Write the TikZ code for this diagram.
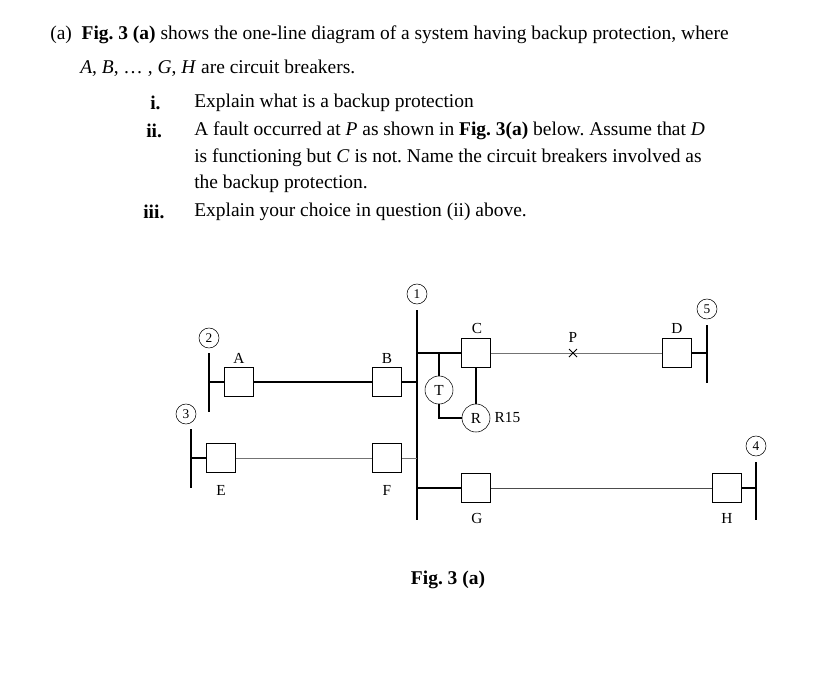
\documentclass[tikz,border=0pt]{standalone}
\usepackage{fontspec}
\setmainfont{Liberation Serif}
\usetikzlibrary{calc}
\frenchspacing
\begin{document}
\begin{tikzpicture}[x=0.75pt,y=-0.75pt,
  brk/.style={draw,fill=white,minimum width=21.75pt,minimum height=21.75pt,inner sep=0pt,line width=0.6pt},
  busc/.style={draw,circle,minimum size=15pt,inner sep=0pt,font=\fontsize{10}{10}\selectfont},
  relc/.style={draw,circle,minimum size=21pt,inner sep=0pt,font=\fontsize{11.5}{11.5}\selectfont},
  bus/.style={line width=1.6pt},
  thk/.style={line width=1.2pt},
  thn/.style={line width=0.6pt,black!55},
  lab/.style={font=\fontsize{11.5}{12}\selectfont},
  txt/.style={anchor=west,inner sep=0pt,font=\fontsize{14.6}{16}\selectfont}]
\useasboundingbox (0,0) rectangle (813,676);
% text
\node[txt] (l1) at (50,35) {(a)\hspace{0.5em}\textbf{Fig. 3 (a)} shows the one-line diagram of a system having backup protection, where};
\node[txt] (l2) at (80,68) {\textit{A}, \textit{B}, \ldots\ , \textit{G}, \textit{H} are circuit breakers.};
\node[txt] (n1) at (150,103) {\textbf{i.}};
\node[txt] (t1) at (194,103) {Explain what is a backup protection};
\node[txt] (n2) at (146,131) {\textbf{ii.}};
\node[txt] (t2) at (194,131) {A fault occurred at \textit{P} as shown in \textbf{Fig. 3(a)} below. Assume that \textit{D}};
\node[txt] (t3) at (194,158) {is functioning but \textit{C} is not. Name the circuit breakers involved as};
\node[txt] (t4) at (194,184) {the backup protection.};
\node[txt] (n3) at (143,212) {\textbf{iii.}};
\node[txt] (t5) at (194,212) {Explain your choice in question (ii) above.};
\node[font=\fontsize{14.6}{16}\selectfont\bfseries] (cap) at (448,580) {Fig. 3 (a)};
% buses
\coordinate (b1t) at (417,310); \coordinate (b1b) at (417,520);
\draw[bus] (b1t) -- (b1b);
\node[busc] (c1) at (417,294) {1};
\coordinate (b2t) at (209,353); \coordinate (b2b) at (209,412);
\draw[bus] (b2t) -- (b2b);
\node[busc] (c2) at (209,338) {2};
\coordinate (b3t) at (191,429); \coordinate (b3b) at (191,488);
\draw[bus] (b3t) -- (b3b);
\node[busc] (c3) at (186,414) {3};
\coordinate (b5t) at (707,325); \coordinate (b5b) at (707,383);
\draw[bus] (b5t) -- (b5b);
\node[busc] (c5) at (707,309) {5};
\coordinate (b4t) at (756,462); \coordinate (b4b) at (756,520);
\draw[bus] (b4t) -- (b4b);
\node[busc] (c4) at (756,446) {4};
% breakers
\node[brk] (A) at (239,382) {}; \node[lab] at (239,358) {A};
\node[brk] (B) at (387,382) {}; \node[lab] at (387,358) {B};
\node[brk] (E) at (221,458) {}; \node[lab] at (221,490) {E};
\node[brk] (F) at (387,458) {}; \node[lab] at (387,490) {F};
\node[brk] (C) at (476,353) {}; \node[lab] at (477,328) {C};
\node[brk] (D) at (677,353) {}; \node[lab] at (677,328) {D};
\node[brk] (G) at (476,488) {}; \node[lab] at (477,518) {G};
\node[brk] (H) at (727,488) {}; \node[lab] at (727,518) {H};
% lines
\draw[thk] (209,382) -- (A.west); \draw[thk] (A.east) -- (B.west); \draw[thk] (B.east) -- (417,382);
\draw[thk] (191,458) -- (E.west); \draw[thn] (E.east) -- (F.west); \draw[thn] (F.east) -- (417,458);
\draw[thk,line width=0.8pt] (417,353) -- (C.west);
\coordinate (P) at (573,353);
\draw[thn] (C.east) -- (P) -- (D.west);
\draw[thk,line width=0.8pt] (D.east) -- (707,353);
\draw[thk,line width=0.8pt] (417,488) -- (G.west);
\draw[thn,black!70] (G.east) -- (H.west);
\draw[thk,line width=0.8pt] (H.east) -- (756,488);
\draw[line width=0.6pt] ($(P)+(-4,-4)$) -- ($(P)+(4,4)$) ($(P)+(-4,4)$) -- ($(P)+(4,-4)$);
\node[lab] (Pl) at (573,337) {P};
% CT and relay
\node[relc] (T) at (439,390) {T};
\node[relc] (R) at (476,418) {R};
\node[lab,anchor=west] (R15) at (490,418) {R15};
\draw[line width=0.8pt] (439,353) -- (T.north);
\draw[line width=0.8pt] (T.south) |- (R.west);
\draw[line width=0.8pt] (C.south) -- (R.north);
\end{tikzpicture}
\end{document}
